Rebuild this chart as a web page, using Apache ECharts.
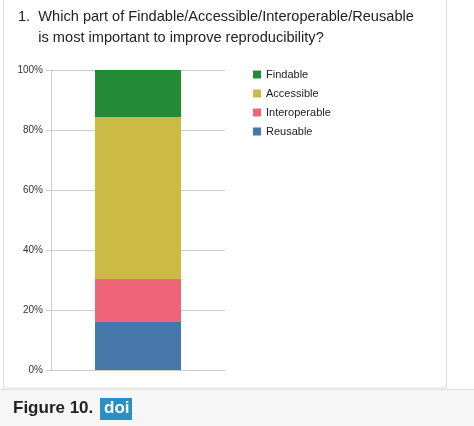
<!DOCTYPE html>
<html><head><meta charset="utf-8">
<script src="https://cdn.jsdelivr.net/npm/echarts@6/dist/echarts.min.js"></script>
<style>html,body{margin:0;padding:0;background:#fff}#c{width:474px;height:426px}</style>
</head><body><div id="c"></div>
<script>
const categories = ['Q1'];
const seriesNames = ['Reusable','Interoperable','Accessible','Findable'];
const seriesColors = ['#4577ab','#ef6478','#cbbb45','#238a35'];
const values = [[16.0],[14.3],[54.0],[15.7]];
const yTicks = ['0%','20%','40%','60%','80%','100%'];

const chart = echarts.init(document.getElementById('c'));
chart.setOption({
  animation:false,
  graphic:[
    {type:'rect',shape:{x:3.5,y:-2,width:443,height:390},style:{fill:'#fff',stroke:'#dcdcdc',lineWidth:1},z:-10},
    {type:'rect',shape:{x:0,y:389,width:474,height:37},style:{fill:'#f6f6f6'},z:-10},
    {type:'line',shape:{x1:0,y1:389.5,x2:474,y2:389.5},style:{stroke:'#e0e0e0',lineWidth:1},z:-9},
    {type:'text',left:18,top:6,style:{text:'1.  Which part of Findable/Accessible/Interoperable/Reusable\n     is most important to improve reproducibility?',font:'14.6px "Liberation Sans", Arial',fill:'#222',lineHeight:21}},
    {type:'text',left:13,top:400,style:{text:'Figure 10.',font:'bold 17px "Liberation Sans"',fill:'#222'}},
    {type:'rect',shape:{x:100,y:398,width:32,height:22},style:{fill:'#2a8fc1'}},
    {type:'text',left:104,top:400,style:{text:'doi',font:'bold 17px "Liberation Sans"',fill:'#fff'}}
  ],
  legend:{
    data:seriesNames.slice().reverse(),orient:'vertical',left:248,top:64,itemWidth:8,itemHeight:8,itemGap:8,
    icon:'rect',textStyle:{fontSize:11,color:'#222',fontFamily:'Liberation Sans'}
  },
  grid:{left:51,right:249,top:70,bottom:56},
  xAxis:{type:'category',data:categories,axisLabel:{show:false},axisTick:{show:false},
    axisLine:{show:true,lineStyle:{color:'#ccc'}},splitLine:{show:false}},
  yAxis:{type:'value',min:0,max:100,interval:20,
    axisLabel:{formatter:(v)=>yTicks[v/20],fontSize:10,color:'#333',fontFamily:'Liberation Sans'},
    axisLine:{show:true,lineStyle:{color:'#ccc'}},axisTick:{show:true,length:5,lineStyle:{color:'#ccc'}},
    splitLine:{lineStyle:{color:'#ccc'}}},
  series:seriesNames.map((n,i)=>({name:n,type:'bar',stack:'s',data:values[i],barWidth:86,
    itemStyle:{color:seriesColors[i]}}))
});
</script></body></html>
